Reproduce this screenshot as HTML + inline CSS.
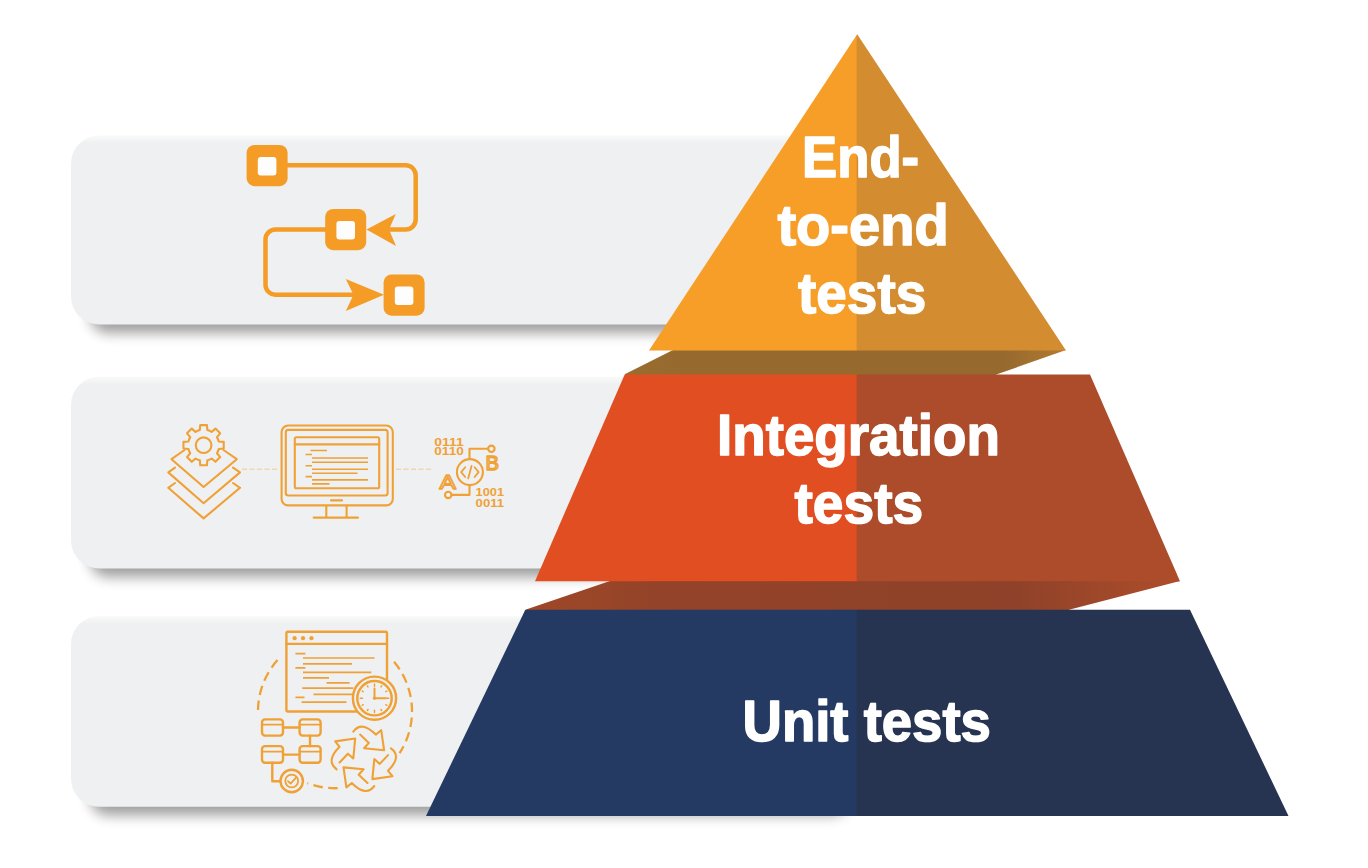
<!DOCTYPE html>
<html lang="en">
<head>
<meta charset="utf-8">
<title>Test pyramid</title>
<style>
html,body{margin:0;padding:0;background:#fff;}
body{width:1368px;height:868px;overflow:hidden;position:relative;font-family:"Liberation Sans",sans-serif;}
svg{position:absolute;left:0;top:0;display:block;}
text{font-family:"Liberation Sans",sans-serif;font-weight:700;fill:#fff;}
</style>
</head>
<body>
<svg width="1368" height="868" viewBox="0 0 1368 868">
  <defs>
    <linearGradient id="cardg" x1="0" y1="0" x2="0" y2="1">
      <stop offset="0" stop-color="#fafafa"/>
      <stop offset="0.04" stop-color="#eff0f1"/>
      <stop offset="1" stop-color="#eff0f1"/>
    </linearGradient>
    <linearGradient id="shA" gradientUnits="userSpaceOnUse" x1="625" y1="0" x2="1066" y2="0">
      <stop offset="0" stop-color="#9a6c2f"/>
      <stop offset="0.15" stop-color="#96692f"/>
      <stop offset="0.86" stop-color="#96692f"/>
      <stop offset="1" stop-color="#b47b30"/>
    </linearGradient>
    <linearGradient id="shB" gradientUnits="userSpaceOnUse" x1="525" y1="0" x2="1180" y2="0">
      <stop offset="0" stop-color="#a04828"/>
      <stop offset="0.2" stop-color="#934329"/>
      <stop offset="0.75" stop-color="#8f4229"/>
      <stop offset="1" stop-color="#ae4d2b"/>
    </linearGradient>
    <filter id="shblur" x="-5%" y="-10%" width="110%" height="120%"><feGaussianBlur stdDeviation="6.5"/></filter>
  </defs>

  <!-- cards -->
  <g id="cards">
    <g filter="url(#shblur)" fill="#000" opacity="0.38">
      <rect x="90" y="285" width="760" height="48" rx="18"/>
      <rect x="90" y="529" width="760" height="48" rx="18"/>
      <rect x="90" y="767.3" width="760" height="48" rx="18"/>
    </g>
    <rect x="71" y="135.5" width="800" height="189" rx="28" fill="url(#cardg)"/>
    <rect x="71" y="376.7" width="800" height="191.7" rx="28" fill="url(#cardg)"/>
    <rect x="71" y="616" width="780" height="190.8" rx="28" fill="url(#cardg)"/>
  </g>

  <!-- icon 1: flow -->
  <g id="icon-flow" fill="none" stroke="#f49c25" stroke-width="4.5">
    <path d="M286,165.3 H405.7 a10,10 0 0 1 10,10 V219.5 a10,10 0 0 1 -10,10 H387"/>
    <path d="M327,229.5 H275.5 a10,10 0 0 0 -10,10 V284.7 a10,10 0 0 0 10,10 H356"/>
    <g stroke="none" fill="#f49c25">
      <polygon points="366.5,229.5 395.8,214 389,229.5 396,246"/>
      <polygon points="384,294.7 345.8,279 353.5,294.7 345.8,311"/>
      <rect x="246.6" y="145" width="41" height="41.2" rx="8"/>
      <rect x="325.2" y="209" width="41" height="41.2" rx="8"/>
      <rect x="383.6" y="274.5" width="41" height="41.2" rx="8"/>
    </g>
    <g stroke="none" fill="#fdfdfd">
      <rect x="257.8" y="157" width="18.6" height="18.4" rx="3"/>
      <rect x="336.4" y="221" width="18.6" height="18.4" rx="3"/>
      <rect x="394.8" y="286.5" width="18.6" height="18.4" rx="3"/>
    </g>
  </g>

  <!-- icon 2: integration -->
  <g id="icon-integration" fill="none" stroke="#f0a136" stroke-width="2.1" stroke-linecap="round" stroke-linejoin="round">
    <!-- layers + gear -->
    <path d="M184.5,450 L171.5,459.2 L203.6,487 L236.8,459.2 L223.5,450"/>
    <path d="M175,467.6 L168.3,472.4 L203.6,503.2 L240,472.4 L233,467.6"/>
    <path d="M175,483 L168.3,487.8 L203.6,518.4 L240,487.8 L233,483"/>
    <circle cx="203.6" cy="445.2" r="7.8"/>
    <path id="gear" d="M199.84,430.06 L200.25,425.08 L206.95,425.08 L207.36,430.06 A15.60,15.60 0 0 1 211.65,431.84 L215.46,428.60 L220.20,433.34 L216.96,437.15 A15.60,15.60 0 0 1 218.74,441.44 L223.72,441.85 L223.72,448.55 L218.74,448.96 A15.60,15.60 0 0 1 216.96,453.25 L220.20,457.06 L215.46,461.80 L211.65,458.56 A15.60,15.60 0 0 1 207.36,460.34 L206.95,465.32 L200.25,465.32 L199.84,460.34 A15.60,15.60 0 0 1 195.55,458.56 L191.74,461.80 L187.00,457.06 L190.24,453.25 A15.60,15.60 0 0 1 188.46,448.96 L183.48,448.55 L183.48,441.85 L188.46,441.44 A15.60,15.60 0 0 1 190.24,437.15 L187.00,433.34 L191.74,428.60 L195.55,431.84 A15.60,15.60 0 0 1 199.84,430.06 Z"/>
    <!-- dashed connectors -->
    <path d="M242,469.2 H279" stroke-width="1" stroke="#f3c88c" stroke-dasharray="5 2.5" stroke-linecap="butt"/>
    <path d="M396,469.2 H433" stroke-width="1" stroke="#f3c88c" stroke-dasharray="5 2.5" stroke-linecap="butt"/>
    <!-- monitor -->
    <rect x="281.6" y="425.5" width="111.2" height="79.9" rx="6.5"/>
    <rect x="285.8" y="429.9" width="101.8" height="65.6" rx="2.5"/>
    <rect x="294.8" y="437.2" width="84.4" height="51" rx="1.5"/>
    <path d="M294.8,444.4 H379.2"/>
    <path d="M326.3,506 V517.6 M346.6,506 V517.6 M313.7,517.6 H358 M331,500.4 H342"/>
    <g stroke-width="1.6" stroke-linecap="butt">
      <path d="M310.5,450.5 H327 M305.5,454.5 H312 M312,458 H368 M312,462.3 H368 M305.5,465.7 H312 M312,469.3 H368 M312,473.3 H357.5 M305.5,476.6 H312 M312,479.9 H368 M312,483.9 H329.5"/>
    </g>
    <!-- A/B code -->
    <circle cx="469.9" cy="472.1" r="13"/>
    <path d="M469.5,459 V448.8 H488"/>
    <circle cx="491.4" cy="448.8" r="3.2"/>
    <path d="M469.5,485.2 V494.9 H451.6"/>
    <circle cx="448.2" cy="494.9" r="3.2"/>
    <path d="M465.2,467.2 L461.2,472.1 L465.2,477 M474.6,467.2 L478.6,472.1 L474.6,477 M471.6,465.8 L468.2,478.4" stroke-width="1.8"/>
    <g stroke="none" fill="#f0a136" font-family="'Liberation Sans',sans-serif">
      <text x="434.3" y="445.6" font-size="10.5" textLength="29.5" lengthAdjust="spacingAndGlyphs" style="fill:#f0a136">0111</text>
      <text x="434.3" y="454.9" font-size="10.5" textLength="29.5" lengthAdjust="spacingAndGlyphs" style="fill:#f0a136">0110</text>
      <text x="475.6" y="496.2" font-size="10.5" textLength="28.5" lengthAdjust="spacingAndGlyphs" style="fill:#f0a136">1001</text>
      <text x="475.6" y="506.5" font-size="10.5" textLength="28.5" lengthAdjust="spacingAndGlyphs" style="fill:#f0a136">0011</text>
      <text x="439.6" y="489.2" font-size="20.5" textLength="16.5" lengthAdjust="spacingAndGlyphs" style="fill:none;stroke:#f0a136;stroke-width:1.5;font-weight:400">A</text>
      <text x="485.6" y="469.6" font-size="20" textLength="13.5" lengthAdjust="spacingAndGlyphs" style="fill:none;stroke:#f0a136;stroke-width:1.5;font-weight:400">B</text>
    </g>
  </g>

  <!-- icon 3: unit -->
  <g id="icon-unit" fill="none" stroke="#f0a136" stroke-width="2.4" stroke-linecap="round" stroke-linejoin="round">
    <path d="M394.0,661.7 A77.0,77.0 0 0 1 399.6,753.1 M337.7,788.2 A77.0,77.0 0 0 1 307.4,783.1 M258.0,709.9 A77.0,77.0 0 0 1 280.6,656.8" stroke-dasharray="9.5 5.5" stroke-linecap="butt" stroke-width="2.3"/>
    <!-- window -->
    <rect x="286.4" y="631.7" width="100.6" height="79.8" rx="1.5" fill="#eff0f1"/>
    <path d="M286.4,643.9 H387"/>
    <g stroke="none" fill="#f0a136"><circle cx="294.6" cy="638.2" r="2.1"/><circle cx="303" cy="638.2" r="2.1"/><circle cx="311.5" cy="638.2" r="2.1"/></g>
    <g stroke-width="1.7" stroke-linecap="butt">
      <path d="M295.4,653.6 H305.4 M303,658 H374.5 M303,663.8 H352 M295.4,667.9 H305.4 M303,672.3 H371.3 M303,677.9 H329 M326.5,682.9 H349.6 M302.3,688.2 H353.3 M313.5,694.3 H353 M295.4,697.4 H304.5 M301.6,702.1 H346.5"/>
    </g>
    <!-- clock -->
    <circle cx="374.5" cy="698.2" r="21.6" fill="#eff0f1"/>
    <circle cx="374.5" cy="698.2" r="17.2"/>
    <path d="M386.5,698.2 L388.7,698.2 M385.8,704.7 L386.8,705.3 M381.0,709.5 L381.6,710.5 M374.5,710.2 L374.5,712.4 M368.0,709.5 L367.4,710.5 M363.2,704.7 L362.2,705.3 M362.5,698.2 L360.3,698.2 M363.2,691.7 L362.2,691.1 M368.0,686.9 L367.4,685.9 M374.5,686.2 L374.5,684.0 M381.0,686.9 L381.6,685.9 M385.8,691.7 L386.8,691.1" stroke-width="1.5"/>
    <path d="M374.5,698.2 V688.6 M374.5,698.2 H385.8" stroke-width="2"/>
    <circle cx="374.5" cy="698.2" r="1.6" fill="#f0a136" stroke="none"/>
    <!-- boxes -->
    <rect x="262" y="719.4" width="21" height="16.2" rx="3"/>
    <rect x="299.6" y="719.4" width="21" height="16.2" rx="3"/>
    <rect x="262" y="746.1" width="21" height="16.6" rx="3"/>
    <rect x="299.6" y="746.1" width="21" height="16.6" rx="3"/>
    <path d="M262,724.6 H283 M299.6,724.6 H320.6 M262,751.6 H283 M299.6,751.6 H320.6" stroke-width="1.8"/>
    <path d="M283,727.5 H299.6 M283,754.6 H299.6 M310,735.6 V746.1 M272.3,762.7 V781.3 H280"/>
    <!-- check -->
    <circle cx="291.7" cy="781" r="11.2"/>
    <circle cx="291.7" cy="781" r="6.4" stroke-width="1.8"/>
    <path d="M288,781.2 L290.6,783.6 L295.8,777.8" stroke-width="1.8"/>
    <!-- cycle arrows -->
    <path d="M353.3,731.6 Q361.7,720.3 375.8,734.6 L381.2,730.2 L384.1,750.2 L364.1,748.3 L368.9,742.9 L360.1,734.6 M391.0,748.3 Q402.3,756.6 388.0,770.8 L392.4,776.2 L372.4,779.1 L374.3,759.0 L379.7,763.9 L388.0,755.1 M374.3,786.0 Q365.9,797.3 351.8,783.0 L346.4,787.4 L343.5,767.4 L363.6,769.3 L358.7,774.7 L367.5,783.0 M336.6,769.3 Q325.3,761.0 339.6,746.8 L335.2,741.4 L355.2,738.5 L353.3,758.5 L347.9,753.7 L339.6,762.5" stroke-width="2.1"/>
  </g>

  <!-- pyramid -->
  <g id="pyramid">
    <polygon points="673,350 1066,350 997,374.3 994,376 626,376 624.7,374.3" fill="url(#shA)"/>
    <polygon points="857.2,34.3 857.3,350.4 649,350.4" fill="#f69e27"/>
    <polygon points="857.2,34.3 1066,350.4 856.6,350.4 856.6,36" fill="#d48c31"/>

    <polygon points="610,581 1180,581 1070,609.5 1066,611 527,611 526,609.5" fill="url(#shB)"/>
    <polygon points="624.7,374.5 857.3,374.5 857.3,581.2 535,581.2" fill="#e04e22"/>
    <polygon points="856.7,374.5 1090,374.5 1180,581.2 856.7,581.2" fill="#ac4c2b"/>

    <polygon points="525.3,609.7 857.3,609.7 857.3,816 426,816" fill="#243a62"/>
    <polygon points="856.7,609.7 1190,609.7 1288.5,816 856.7,816" fill="#263351"/>
  </g>

  <!-- labels -->
  <g id="labels" font-size="56.5" stroke="#fff" stroke-width="1.5" stroke-linejoin="round">
    <text x="802.12" y="177.2" textLength="117.03" lengthAdjust="spacingAndGlyphs">End-</text>
    <text x="777.4" y="244.7" textLength="171.38" lengthAdjust="spacingAndGlyphs">to-end</text>
    <text x="798.09" y="312.7" textLength="128.09" lengthAdjust="spacingAndGlyphs">tests</text>
    <text x="717.09" y="455.2" textLength="282.74" lengthAdjust="spacingAndGlyphs">Integration</text>
    <text x="794.48" y="523.2" textLength="128.69" lengthAdjust="spacingAndGlyphs">tests</text>
    <text x="742.58" y="740.8" textLength="248.29" lengthAdjust="spacingAndGlyphs">Unit tests</text>
  </g>
</svg>
</body>
</html>
